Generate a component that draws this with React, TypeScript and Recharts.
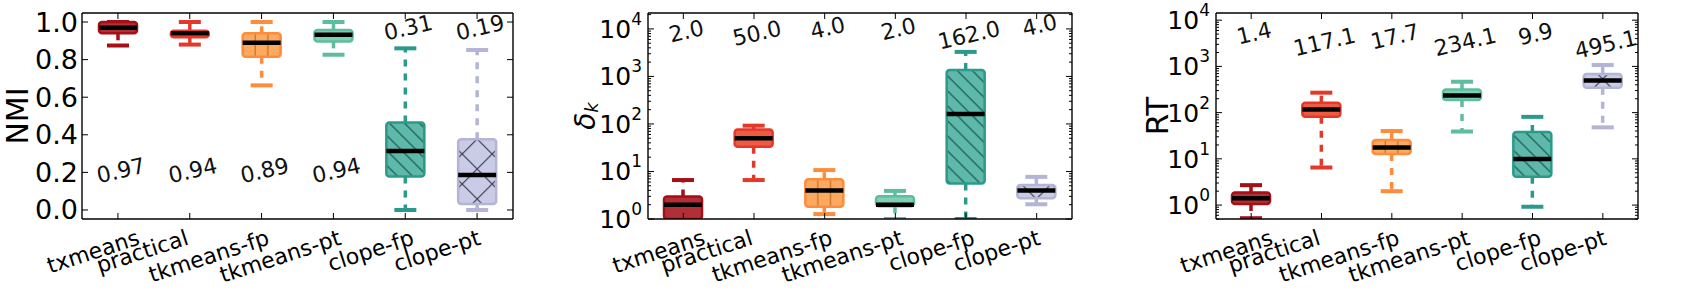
import React from 'react';
import { ComposedChart, Bar, Scatter, XAxis, YAxis } from 'recharts';

const CATEGORIES = ['txmeans', 'practical', 'tkmeans-fp', 'tkmeans-pt', 'clope-fp', 'clope-pt'];

// NMI panel (linear)
const NMI_LOW = [0.875, 0.88, 0.663, 0.826, 0.0, 0.0];
const NMI_Q1 = [0.94, 0.919, 0.815, 0.897, 0.178, 0.032];
const NMI_MEDIAN = [0.97, 0.94, 0.89, 0.932, 0.314, 0.186];
const NMI_Q3 = [1.0, 0.954, 0.94, 0.957, 0.466, 0.376];
const NMI_HIGH = [1.0, 1.0, 1.0, 1.0, 0.86, 0.851];
const NMI_LABELS = ['0.97', '0.94', '0.89', '0.94', '0.31', '0.19'];
const NMI_LABEL_Y = [0.21, 0.21, 0.21, 0.21, 0.97, 0.97];
const NMI_TICKS = [0, 0.2, 0.4, 0.6, 0.8, 1.0];

// delta_k panel (log)
const DK_LOW = [1, 6.6, 1.27, 1, 1, 2.04];
const DK_Q1 = [1, 33, 1.82, 1.85, 5.6, 2.74];
const DK_MEDIAN = [2, 50, 4, 2, 162, 4];
const DK_Q3 = [2.96, 76, 6.9, 3, 1365, 5.2];
const DK_HIGH = [6.6, 92, 10.7, 3.9, 3280, 7.7];
const DK_LABELS = ['2.0', '50.0', '4.0', '2.0', '162.0', '4.0'];
const DK_LABEL_Y = [8900, 8100, 10500, 10000, 7400, 12000];

// RT panel (log)
const RT_LOW = [0.52, 6.5, 2.0, 39, 0.92, 48];
const RT_Q1 = [1.05, 81, 12.7, 187, 4.1, 347];
const RT_MEDIAN = [1.4, 117.1, 17.7, 234.1, 9.9, 495.1];
const RT_Q3 = [1.88, 164, 25.5, 316, 38, 684];
const RT_HIGH = [2.7, 270, 40, 466, 81, 1070];
const RT_LABELS = ['1.4', '117.1', '17.7', '234.1', '9.9', '495.1'];
const RT_LABEL_Y = [5200, 3400, 4400, 3400, 5000, 3000];

// box styling per method
const EDGE = ['#a50f15', '#e3392b', '#fd8d3c', '#5dbd9e', '#2b9a8a', '#b3b4d6'];
const FILL = ['#b32f38', '#ef5a43', '#fdaa60', '#80d0b4', '#5fb9ab', '#cacbe6'];
const HATCH = ['', '', 'vert', '', 'diag', 'cross'];
const HATCH_COLOR = ['', '', '#c8722a', '', '#1d5f57', '#3a3a4a'];
// horizontal nudge of each rotated category label's right end
const LABEL_SHIFT = [23, 0, 9, 9, 10, 5];

const FONT = '"DejaVu Sans", sans-serif';
const CHART_H = 294;
const PLOT_TOP = 13;
const PLOT_BOTTOM = 219;
const BOX_W = 38;
const CAP_W = 22;

function buildRows(low: number[], q1: number[], med: number[], q3: number[], high: number[], labels: string[], labelY: number[]) {
  return CATEGORIES.map((name, i) => ({
    name,
    low: low[i],
    q1: q1[i],
    med: med[i],
    q3: q3[i],
    high: high[i],
    range: [low[i], high[i]],
    label: labels[i],
    labelY: labelY[i],
  }));
}

function logTicks(lo: number, hi: number): number[] {
  const out: number[] = [];
  for (let e = -1; e <= 5; e++) {
    for (let m = 1; m <= 9; m++) {
      const v = m * Math.pow(10, e);
      if (v >= lo * 0.999 && v <= hi * 1.001) out.push(v);
    }
  }
  return out;
}

const isDecade = (v: number) => Math.abs(Math.log10(v) - Math.round(Math.log10(v))) < 1e-6;

function Hatch({ id, kind, color, x }: { id: string; kind: string; color: string; x: number }) {
  if (kind === 'vert') {
    return (
      <pattern id={id} patternUnits="userSpaceOnUse" x={x + 0.5} y={0} width={12.7} height={10}>
        <line x1={12.2} x2={12.2} y1={0} y2={10} stroke={color} strokeWidth={1.6} />
      </pattern>
    );
  }
  if (kind === 'diag') {
    return (
      <pattern id={id} patternUnits="userSpaceOnUse" x={x} y={0} width={15} height={15}>
        <path d="M0,0 L15,15 M-2,13 L2,17 M13,-2 L17,2" stroke={color} strokeWidth={1.3} />
      </pattern>
    );
  }
  return (
    <pattern id={id} patternUnits="userSpaceOnUse" x={x + 4} y={4} width={30} height={30}>
      <path d="M0,0 L30,30 M30,0 L0,30" stroke={color} strokeWidth={1.2} />
    </pattern>
  );
}

function makeBoxShape(prefix: string, log: boolean) {
  return (props: any) => {
    const { x, y, width, height, payload, index } = props;
    if (x == null || y == null || !payload) return <g />;
    const f = (v: number) => (log ? Math.log10(v) : v);
    const top = Math.min(y, y + height);
    const bottom = Math.max(y, y + height);
    const hiF = f(payload.high);
    const loF = f(payload.low);
    const px = (v: number) => top + ((hiF - f(v)) / (hiF - loF)) * (bottom - top);
    const cx = x + width / 2;
    const yq1 = px(payload.q1);
    const yq3 = px(payload.q3);
    const ymed = px(payload.med);
    const edge = EDGE[index];
    const hatch = HATCH[index];
    const hid = `${prefix}-hatch-${index}`;
    const bx = cx - BOX_W / 2;
    const bh = Math.max(yq1 - yq3, 0.5);
    return (
      <g>
        {hatch && (
          <defs>
            <Hatch id={hid} kind={hatch} color={HATCH_COLOR[index]} x={bx} />
          </defs>
        )}
        {/* whiskers */}
        <line x1={cx} x2={cx} y1={yq3} y2={top} stroke={edge} strokeWidth={3.5} strokeDasharray="7 7" />
        <line x1={cx} x2={cx} y1={yq1} y2={bottom} stroke={edge} strokeWidth={3.5} strokeDasharray="7 7" />
        <line x1={cx - CAP_W / 2} x2={cx + CAP_W / 2} y1={top} y2={top} stroke={edge} strokeWidth={4} />
        <line x1={cx - CAP_W / 2} x2={cx + CAP_W / 2} y1={bottom} y2={bottom} stroke={edge} strokeWidth={4} />
        {/* box */}
        <rect x={bx} y={yq3} width={BOX_W} height={bh} rx={3} fill={FILL[index]} />
        {hatch && <rect x={bx} y={yq3} width={BOX_W} height={bh} rx={3} fill={`url(#${hid})`} />}
        <rect x={bx} y={yq3} width={BOX_W} height={bh} rx={3} fill="none" stroke={edge} strokeWidth={2.5} />
        {/* median */}
        <line x1={bx} x2={bx + BOX_W} y1={ymed} y2={ymed} stroke="#000" strokeWidth={4.5} />
      </g>
    );
  };
}

const renderValueLabel = (props: any) => {
  const { cx, cy, payload } = props;
  if (cx == null || cy == null) return <g />;
  return (
    <g transform={`translate(${cx + 3} ${cy}) rotate(-13)`}>
      <text x={0} y={0} textAnchor="middle" dominantBaseline="central" fontSize={22} fontFamily={FONT} fill="#111">
        {payload.label}
      </text>
    </g>
  );
};

const makeLeftTick = (log: boolean) => (props: any) => {
  const { x, y, payload } = props;
  const v = payload.value as number;
  const major = !log || isDecade(v);
  let label: React.ReactNode = null;
  if (major && log) {
    const e = Math.round(Math.log10(v));
    label = (
      <text x={x - 6} y={y + 9} textAnchor="end" fontSize={25} fontFamily={FONT} fill="#000">
        <tspan>10</tspan>
        <tspan dy={-13} fontSize={17}>{e}</tspan>
      </text>
    );
  } else if (major) {
    label = (
      <text x={x - 4} y={y + 9.5} textAnchor="end" fontSize={27} fontFamily={FONT} fill="#000">
        {v.toFixed(1)}
      </text>
    );
  }
  return (
    <g>
      <line x1={x} x2={x + (major ? 6 : 3)} y1={y} y2={y} stroke="#000" strokeWidth={1} />
      {label}
    </g>
  );
};

const makeRightTick = (log: boolean) => (props: any) => {
  const { x, y, payload } = props;
  const major = !log || isDecade(payload.value);
  return <line x1={x} x2={x - (major ? 6 : 3)} y1={y} y2={y} stroke="#000" strokeWidth={1} />;
};

const renderBottomTick = (props: any) => {
  const { x, payload } = props;
  const i = CATEGORIES.indexOf(payload.value);
  const ax = x + (LABEL_SHIFT[i] ?? 8);
  const ay = PLOT_BOTTOM + 25;
  return (
    <g>
      <line x1={x} x2={x} y1={PLOT_BOTTOM} y2={PLOT_BOTTOM - 6} stroke="#000" strokeWidth={1} />
      <g transform={`translate(${ax} ${ay}) rotate(-18)`}>
        <text x={0} y={0} textAnchor="end" fontSize={22} fontFamily={FONT} fill="#000">
          {payload.value}
        </text>
      </g>
    </g>
  );
};

const renderTopTick = (props: any) => {
  const { x } = props;
  return <line x1={x} x2={x} y1={PLOT_TOP} y2={PLOT_TOP + 6} stroke="#000" strokeWidth={1} />;
};

interface PanelProps {
  id: string;
  rows: any[];
  log: boolean;
  domain: [number, number];
  ticks: number[];
  left: number;
  width: number;
  plotLeft: number;
  plotRight: number;
  title: React.ReactNode;
}

const Panel: React.FC<PanelProps> = ({ id, rows, log, domain, ticks, left, width, plotLeft, plotRight, title }) => {
  const yAxisW = 70;
  const rightW = 10;
  const margin = {
    top: PLOT_TOP - 5,
    bottom: CHART_H - PLOT_BOTTOM - 60,
    left: plotLeft - left - yAxisW,
    right: left + width - plotRight - rightW,
  };
  const scale = log ? 'log' : 'linear';
  return (
    <div style={{ position: 'absolute', left, top: 0, width, height: CHART_H }}>
      <ComposedChart width={width} height={CHART_H} data={rows} margin={margin}>
        <XAxis
          xAxisId="b"
          dataKey="name"
          type="category"
          height={60}
          interval={0}
          tickSize={0}
          tickMargin={0}
          tickLine={false}
          axisLine={{ stroke: '#000', strokeWidth: 1.4 }}
          tick={renderBottomTick}
        />
        <XAxis
          xAxisId="t"
          dataKey="name"
          type="category"
          orientation="top"
          height={5}
          interval={0}
          tickSize={0}
          tickMargin={0}
          tickLine={false}
          axisLine={{ stroke: '#000', strokeWidth: 1.4 }}
          tick={renderTopTick}
        />
        <YAxis
          yAxisId="l"
          type="number"
          scale={scale}
          domain={domain}
          allowDataOverflow
          ticks={ticks}
          interval={0}
          width={yAxisW}
          tickSize={0}
          tickMargin={0}
          tickLine={false}
          axisLine={{ stroke: '#000', strokeWidth: 1.4 }}
          tick={makeLeftTick(log)}
          label={{ content: () => title }}
        />
        <YAxis
          yAxisId="r"
          orientation="right"
          type="number"
          scale={scale}
          domain={domain}
          allowDataOverflow
          ticks={ticks}
          interval={0}
          width={rightW}
          tickSize={0}
          tickMargin={0}
          tickLine={false}
          axisLine={{ stroke: '#000', strokeWidth: 1.4 }}
          tick={makeRightTick(log)}
        />
        <Bar
          xAxisId="b"
          yAxisId="l"
          dataKey="range"
          barSize={BOX_W}
          shape={makeBoxShape(id, log)}
          isAnimationActive={false}
        />
        <Scatter xAxisId="b" yAxisId="l" dataKey="labelY" shape={renderValueLabel} isAnimationActive={false} />
        <Scatter xAxisId="t" yAxisId="r" dataKey="med" shape={() => <g />} isAnimationActive={false} />
      </ComposedChart>
    </div>
  );
};

const midY = (PLOT_TOP + PLOT_BOTTOM) / 2;

const App: React.FC = () => {
  const nmiRows = buildRows(NMI_LOW, NMI_Q1, NMI_MEDIAN, NMI_Q3, NMI_HIGH, NMI_LABELS, NMI_LABEL_Y);
  const dkRows = buildRows(DK_LOW, DK_Q1, DK_MEDIAN, DK_Q3, DK_HIGH, DK_LABELS, DK_LABEL_Y);
  const rtRows = buildRows(RT_LOW, RT_Q1, RT_MEDIAN, RT_Q3, RT_HIGH, RT_LABELS, RT_LABEL_Y);
  const dkDomain: [number, number] = [1, 21600];
  const rtDomain: [number, number] = [0.5, 14300];

  return (
    <div style={{ position: 'absolute', left: 0, top: 0, width: 1703, height: 294, background: '#fff', fontFamily: FONT }}>
      <Panel
        id="nmi"
        rows={nmiRows}
        log={false}
        domain={[-0.048, 1.048]}
        ticks={NMI_TICKS}
        left={0}
        width={560}
        plotLeft={82}
        plotRight={513}
        title={
          <text x={17} y={midY} textAnchor="middle" dominantBaseline="central" fontSize={30} fontFamily={FONT} transform={`rotate(-90 17 ${midY})`}>
            NMI
          </text>
        }
      />
      <Panel
        id="dk"
        rows={dkRows}
        log
        domain={dkDomain}
        ticks={logTicks(dkDomain[0], dkDomain[1])}
        left={565}
        width={560}
        plotLeft={648}
        plotRight={1072}
        title={
          <text x={20} y={midY} textAnchor="middle" dominantBaseline="central" fontSize={28} fontFamily={FONT} fontStyle="italic" transform={`rotate(-90 20 ${midY})`}>
            <tspan>δ</tspan>
            <tspan fontSize={18} dy={6}>k</tspan>
          </text>
        }
      />
      <Panel
        id="rt"
        rows={rtRows}
        log
        domain={rtDomain}
        ticks={logTicks(rtDomain[0], rtDomain[1])}
        left={1130}
        width={573}
        plotLeft={1216}
        plotRight={1638}
        title={
          <text x={27} y={midY} textAnchor="middle" dominantBaseline="central" fontSize={31} fontFamily={FONT} transform={`rotate(-90 27 ${midY})`}>
            RT
          </text>
        }
      />
    </div>
  );
};

export default App;
